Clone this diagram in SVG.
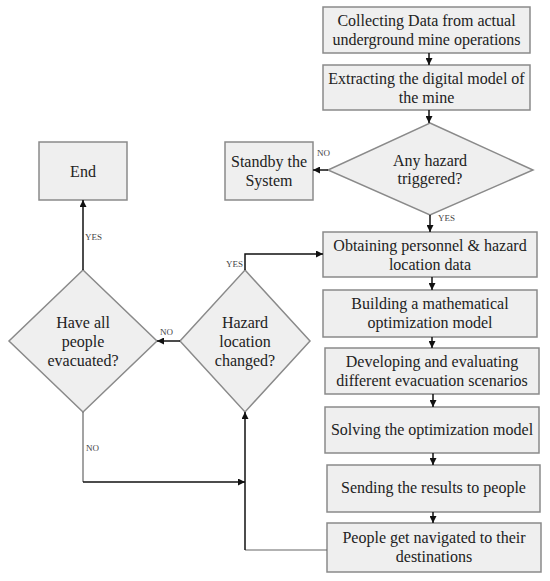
<svg xmlns="http://www.w3.org/2000/svg" width="550" height="581" viewBox="0 0 550 581">
<style>
.box{fill:#efefef;stroke:#8a8a8a;stroke-width:1.5}
.t{font-family:"Liberation Serif","DejaVu Serif",serif;font-size:16px;fill:#222;text-anchor:middle}
.l{font-family:"Liberation Serif","DejaVu Serif",serif;font-size:9px;fill:#444}
.c{fill:none;stroke:#111;stroke-width:1.5}
.g{fill:none;stroke:#666;stroke-width:1.2}
</style>
<defs>
<marker id="a" viewBox="0 0 10 10" refX="10" refY="5" markerWidth="7" markerHeight="7" markerUnits="userSpaceOnUse" orient="auto"><path d="M0,0L10,5L0,10z" fill="#111"/></marker>
</defs>
<rect width="550" height="581" fill="#fff"/>
<g id="n1"><rect class="box" x="323" y="7" width="207" height="46"/><text class="t" x="426.5" y="26">Collecting Data from actual</text><text class="t" x="426.5" y="45">underground mine operations</text></g>
<g id="n2"><rect class="box" x="323" y="65" width="207" height="45"/><text class="t" x="426.5" y="84">Extracting the digital model of</text><text class="t" x="426.5" y="103">the mine</text></g>
<g id="n3"><polygon class="box" points="430,123 533,170 430,215 328,170"/><text class="t" x="430" y="166">Any hazard</text><text class="t" x="430" y="184">triggered?</text></g>
<g id="n4"><rect class="box" x="225" y="142" width="88" height="58"/><text class="t" x="269" y="167">Standby the</text><text class="t" x="269" y="186">System</text></g>
<g id="n5"><rect class="box" x="323" y="232" width="214" height="45"/><text class="t" x="430" y="251">Obtaining personnel &amp; hazard</text><text class="t" x="430" y="270">location data</text></g>
<g id="n6"><rect class="box" x="323" y="290" width="214" height="47"/><text class="t" x="430" y="309">Building a mathematical</text><text class="t" x="430" y="328">optimization model</text></g>
<g id="n7"><rect class="box" x="325" y="348" width="214" height="46"/><text class="t" x="432" y="367">Developing and evaluating</text><text class="t" x="432" y="386">different evacuation scenarios</text></g>
<g id="n8"><rect class="box" x="325" y="407" width="214" height="46"/><text class="t" x="432" y="435">Solving the optimization model</text></g>
<g id="n9"><rect class="box" x="327" y="465" width="213" height="47"/><text class="t" x="433.5" y="493">Sending the results to people</text></g>
<g id="n10"><rect class="box" x="327" y="523" width="214" height="49"/><text class="t" x="434" y="543">People get navigated to their</text><text class="t" x="434" y="562">destinations</text></g>
<g id="n11"><polygon class="box" points="245,270 310,341 245,412 180,341"/><text class="t" x="245" y="328">Hazard</text><text class="t" x="245" y="347">location</text><text class="t" x="245" y="366">changed?</text></g>
<g id="n12"><polygon class="box" points="83,270 157,341 83,412 9,341"/><text class="t" x="83" y="328">Have all</text><text class="t" x="83" y="347">people</text><text class="t" x="83" y="366">evacuated?</text></g>
<g id="n13"><rect class="box" x="39" y="142" width="88" height="58"/><text class="t" x="83" y="177">End</text></g>
<g id="connectors">
<path class="c" d="M429,53V65" marker-end="url(#a)"/>
<path class="c" d="M429,110V123" marker-end="url(#a)"/>
<path class="c" d="M328,170H313" marker-end="url(#a)"/>
<path class="c" d="M430,215V232" marker-end="url(#a)"/>
<path class="c" d="M432,277V290" marker-end="url(#a)"/>
<path class="c" d="M432,337V348" marker-end="url(#a)"/>
<path class="c" d="M433,394V407" marker-end="url(#a)"/>
<path class="c" d="M433,453V465" marker-end="url(#a)"/>
<path class="c" d="M433,512V523" marker-end="url(#a)"/>
<path class="c" d="M245,270V254H323" marker-end="url(#a)"/>
<path class="c" d="M180,341H157" marker-end="url(#a)"/>
<path class="c" d="M83,270V200" marker-end="url(#a)"/>
<path class="g" d="M83,412V482"/>
<path class="c" d="M83,482H245" marker-end="url(#a)"/>
<path class="g" d="M327,550H245"/>
<path class="c" d="M245,550V412" marker-end="url(#a)"/>
<text class="l" x="317" y="156">NO</text>
<text class="l" x="438" y="221">YES</text>
<text class="l" x="226" y="267">YES</text>
<text class="l" x="160" y="335">NO</text>
<text class="l" x="85" y="240">YES</text>
<text class="l" x="86" y="451">NO</text>
</g>
</svg>
